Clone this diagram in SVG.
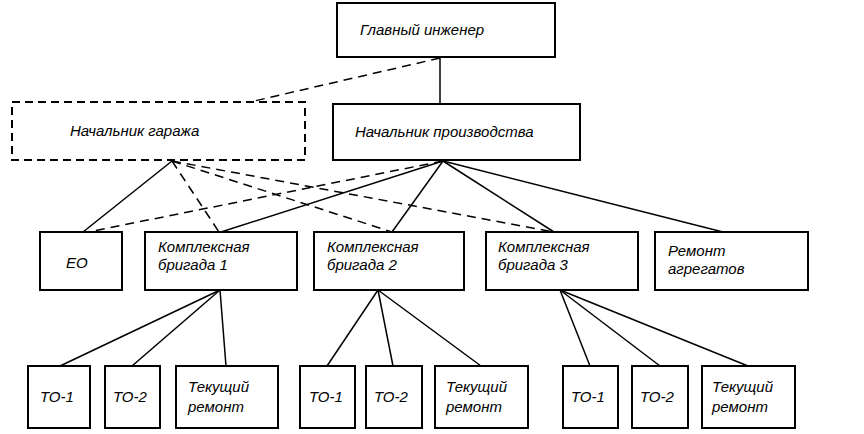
<svg xmlns="http://www.w3.org/2000/svg" width="864" height="434" viewBox="0 0 864 434">
<style>
rect{fill:#fff;stroke:#000;stroke-width:2}
.d{stroke-dasharray:8,5}
text{font-family:"Liberation Sans",Arial,sans-serif;font-style:italic;font-size:15px;fill:#000}
line{stroke:#000;stroke-width:1.5}
line.d{stroke-dasharray:9,6}
</style>
<rect width="864" height="434" style="fill:#fff;stroke:none"/>
<g id="connectors">
<line x1="440" y1="57" x2="440" y2="104"/>
<line class="d" x1="440" y1="58" x2="250" y2="102"/>
<line x1="172" y1="161" x2="83" y2="232"/>
<line class="d" x1="172" y1="161" x2="219" y2="232"/>
<line class="d" x1="172" y1="161" x2="392" y2="232"/>
<line class="d" x1="172" y1="161" x2="554" y2="232"/>
<line class="d" x1="443" y1="161" x2="88" y2="232"/>
<line x1="443" y1="161" x2="221" y2="232"/>
<line x1="443" y1="161" x2="392" y2="232"/>
<line x1="443" y1="161" x2="554" y2="232"/>
<line x1="443" y1="161" x2="723" y2="232"/>
<line x1="220" y1="290" x2="60" y2="366"/>
<line x1="220" y1="290" x2="132" y2="366"/>
<line x1="220" y1="290" x2="226" y2="366"/>
<line x1="378" y1="290" x2="327" y2="366"/>
<line x1="378" y1="290" x2="393" y2="366"/>
<line x1="378" y1="290" x2="481" y2="366"/>
<line x1="560" y1="290" x2="590" y2="366"/>
<line x1="560" y1="290" x2="660" y2="366"/>
<line x1="560" y1="290" x2="748" y2="366"/>
</g>
<g id="chief"><rect x="337" y="3" width="218" height="54"/><text x="360" y="35">Главный   инженер</text></g>
<g id="garage"><rect class="d" x="12" y="102" width="293" height="58"/><text x="70" y="136">Начальник гаража</text></g>
<g id="prod"><rect x="333" y="104" width="247" height="56"/><text x="355" y="137">Начальник производства</text></g>
<g id="eo"><rect x="40" y="232" width="82" height="58"/><text x="66" y="268">ЕО</text></g>
<g id="kb1"><rect x="145" y="232" width="152" height="58"/><text x="158" y="252">Комплексная</text><text x="158" y="270">бригада 1</text></g>
<g id="kb2"><rect x="314" y="232" width="150" height="58"/><text x="327" y="252">Комплексная</text><text x="327" y="270">бригада 2</text></g>
<g id="kb3"><rect x="486" y="232" width="152" height="58"/><text x="498" y="252">Комплексная</text><text x="498" y="270">бригада 3</text></g>
<g id="ra"><rect x="655" y="232" width="153" height="58"/><text x="668" y="256">Ремонт</text><text x="668" y="274">агрегатов</text></g>
<g id="to1a"><rect x="28" y="366" width="62" height="62"/><text x="40" y="402">ТО-1</text></g>
<g id="to2a"><rect x="105" y="366" width="55" height="62"/><text x="113" y="402">ТО-2</text></g>
<g id="tra"><rect x="176" y="366" width="102" height="62"/><text x="188" y="392">Текущий</text><text x="188" y="412">ремонт</text></g>
<g id="to1b"><rect x="300" y="366" width="55" height="62"/><text x="309" y="402">ТО-1</text></g>
<g id="to2b"><rect x="366" y="366" width="56" height="62"/><text x="374" y="402">ТО-2</text></g>
<g id="trb"><rect x="435" y="366" width="93" height="62"/><text x="446" y="392">Текущий</text><text x="446" y="412">ремонт</text></g>
<g id="to1c"><rect x="563" y="366" width="55" height="62"/><text x="571" y="402">ТО-1</text></g>
<g id="to2c"><rect x="632" y="366" width="56" height="62"/><text x="640" y="402">ТО-2</text></g>
<g id="trc"><rect x="702" y="366" width="93" height="62"/><text x="712" y="392">Текущий</text><text x="712" y="412">ремонт</text></g>
</svg>
